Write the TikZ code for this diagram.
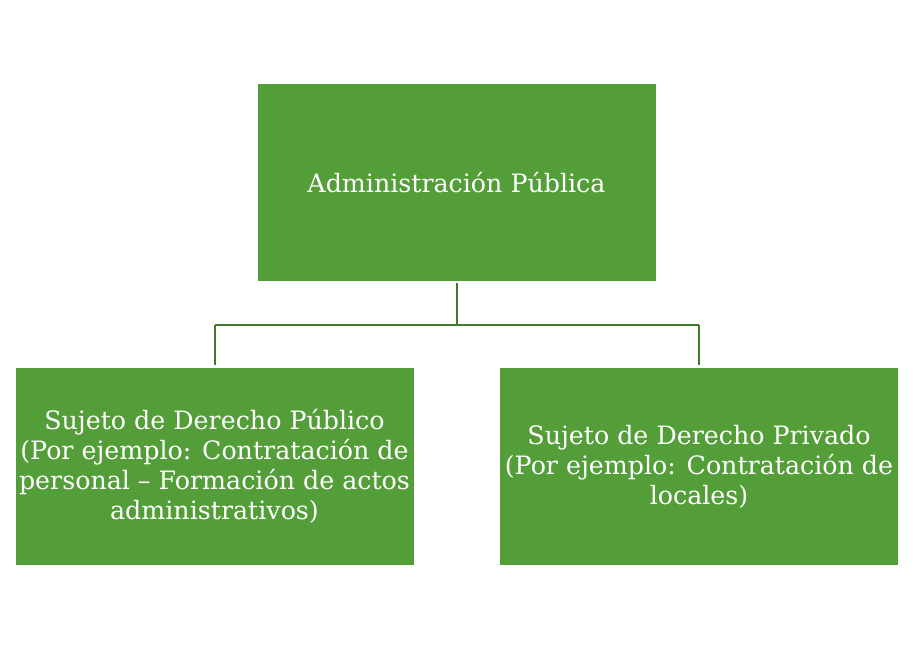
\documentclass[tikz,border=0pt]{standalone}
\usepackage{fontspec}
\setmainfont{DejaVu Serif}
\definecolor{boxgreen}{RGB}{84,158,57}
\definecolor{linegreen}{RGB}{66,122,45}
\begin{document}
\begin{tikzpicture}[x=1pt,y=-1pt,
  gbox/.style={fill=boxgreen, draw=none, minimum width=398pt, minimum height=197pt, text=white, align=center, font=\fontsize{25.3}{30}\selectfont, inner sep=0pt},
  conn/.style={draw=linegreen, line width=2pt}]
\useasboundingbox (0,0) rectangle (917,650);
\node[gbox] (top) at (456.5,182.5) {Administración Pública};
\node[gbox] (left) at (214.5,466.5) {Sujeto de Derecho Público\\(Por ejemplo: Contratación de\\personal – Formación de actos\\administrativos)};
\node[gbox] (right) at (699,466.5) {Sujeto de Derecho Privado\\(Por ejemplo: Contratación de\\locales)};
\coordinate (mid) at (456.5,325);
\draw[conn] ([yshift=-2pt]top.south) -- (mid);
\draw[conn] (mid -| left.north) -- (mid -| right.north);
\draw[conn] (mid -| left.north) -- ([yshift=2.5pt]left.north);
\draw[conn] (mid -| right.north) -- ([yshift=2.5pt]right.north);
\end{tikzpicture}
\end{document}
